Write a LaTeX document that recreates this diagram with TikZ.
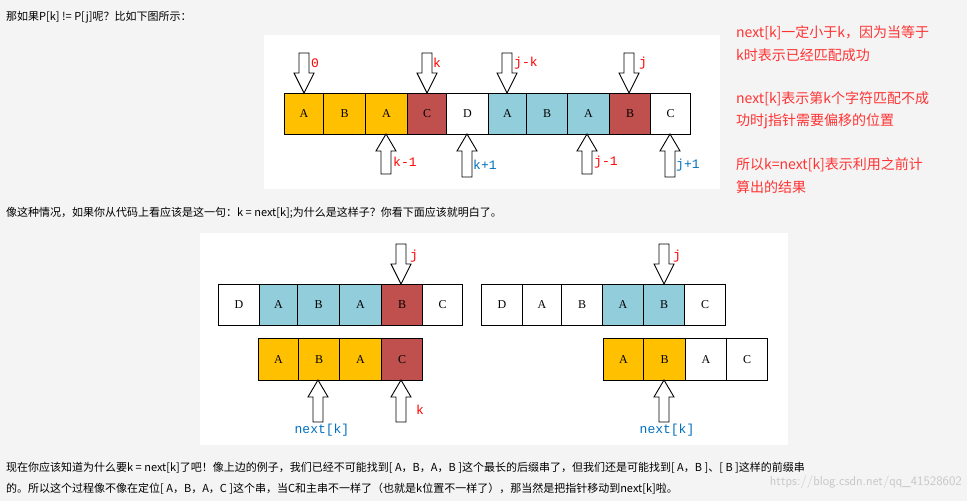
\documentclass[tikz,border=0pt]{standalone}
\usepackage{fontspec}
\setmainfont{Liberation Serif}
\newfontfamily\cjk{Noto Sans CJK SC}
\newfontfamily\mono{Liberation Mono}
\definecolor{org}{HTML}{FFC000}
\definecolor{rd}{HTML}{C0504D}
\definecolor{bl}{HTML}{92CDDC}
\definecolor{lred}{HTML}{FF0000}
\definecolor{lblue}{HTML}{0070C0}
\definecolor{bg}{HTML}{F4F4F4}
\definecolor{nred}{HTML}{FF3333}
\newcommand{\darr}[3]{\draw[blockarrow] (#1-5,#2) -- (#1+5,#2) -- (#1+5,#3-20) -- (#1+10,#3-20) -- (#1,#3) -- (#1-10,#3-20) -- (#1-5,#3-20) -- cycle;}
\newcommand{\uarr}[3]{\draw[blockarrow] (#1-5,#2) -- (#1+5,#2) -- (#1+5,#3+17) -- (#1+10,#3+17) -- (#1,#3) -- (#1-10,#3+17) -- (#1-5,#3+17) -- cycle;}
\begin{document}
\begin{tikzpicture}[x=1pt,y=-1pt,
  cell/.style={draw,line width=1pt,inner sep=0pt,font=\fontsize{12}{12}\selectfont},
  blockarrow/.style={draw,line width=0.9pt,fill=white,line join=miter},
  lab/.style={font=\mono\fontsize{13}{13}\selectfont,anchor=west,inner sep=0pt},
  txt/.style={font=\cjk\fontsize{11}{13}\selectfont,anchor=west,inner sep=0pt},
  note/.style={font=\cjk\fontsize{14}{16}\selectfont,text=nred,anchor=west,inner sep=0pt}]
\useasboundingbox (0,0) rectangle (967,501);
\fill[bg] (0,0) rectangle (967,501);
\fill[white] (264,35) rectangle (720,189);
\fill[white] (200,233) rectangle (788,445);
% top row
\foreach \a/\b/\t/\c [count=\i] in {284/323/A/org,323/365/B/org,365/407/A/org,407/446/C/rd,446/488/D/white,488/526/A/bl,526/567/B/bl,567/609/A/bl,609/650/B/rd,650/690/C/white}
  \node[cell,fill=\c,minimum width={\b-\a},minimum height=41,anchor=north west] (t\i) at (\a,93) {\t};
\darr{304}{53}{93}\node[lab,text=lred] (l0) at (311,63) {0};
\darr{427}{53}{93}\node[lab,text=lred] (lk) at (433,63) {k};
\darr{507}{53}{93}\node[lab,text=lred] (ljk) at (514,63) {j-k};
\darr{629}{53}{93}\node[lab,text=lred] (lj) at (639,63) {j};
\uarr{386}{174}{134}\node[lab,text=lred] (lk1) at (393,162) {k-1};
\uarr{467}{177}{134}\node[lab,text=lblue] (lkp) at (473,165) {k+1};
\uarr{587}{174}{134}\node[lab,text=lred] (lj1) at (594,162) {j-1};
\uarr{670}{177}{134}\node[lab,text=lblue] (ljp) at (676,165) {j+1};
% bottom left
\foreach \a/\b/\t/\c [count=\i] in {218/259/D/white,259/297/A/bl,297/339/B/bl,339/381/A/bl,381/422/B/rd,422/462/C/white}
  \node[cell,fill=\c,minimum width={\b-\a},minimum height=41,anchor=north west] (a\i) at (\a,284) {\t};
\foreach \a/\b/\t/\c [count=\i] in {258/298/A/org,298/339/B/org,339/381/A/org,381/422/C/rd}
  \node[cell,fill=\c,minimum width={\b-\a},minimum height=42,anchor=north west] (b\i) at (\a,338) {\t};
\darr{401}{244}{284}\node[lab,text=lred] (lj2) at (410,256) {j};
\uarr{318}{422}{380}\node[lab,text=lblue,anchor=center] (ln1) at (322,430) {next[k]};
\uarr{401}{422}{380}\node[lab,text=lred] (lk2) at (416,410) {k};
% bottom right
\foreach \a/\b/\t/\c [count=\i] in {481/522/D/white,522/561/A/white,561/602/B/white,602/643/A/bl,643/684/B/bl,684/725/C/white}
  \node[cell,fill=\c,minimum width={\b-\a},minimum height=41,anchor=north west] (c\i) at (\a,284) {\t};
\foreach \a/\b/\t/\c [count=\i] in {603/643/A/org,643/685/B/org,685/726/A/white,726/767/C/white}
  \node[cell,fill=\c,minimum width={\b-\a},minimum height=42,anchor=north west] (d\i) at (\a,338) {\t};
\darr{664}{244}{284}\node[lab,text=lred] (lj3) at (673,256) {j};
\uarr{664}{422}{380}\node[lab,text=lblue,anchor=center] (ln2) at (667,430) {next[k]};
% texts
\node[txt] (h1) at (6,17) {那如果P[k] != P[j]呢？比如下图所示：};
\node[txt] (h2) at (6,213) {像这种情况，如果你从代码上看应该是这一句：k = next[k];为什么是这样子？你看下面应该就明白了。};
\node[txt] (h3) at (6,468) {现在你应该知道为什么要k = next[k]了吧！像上边的例子，我们已经不可能找到[ A，B，A，B ]这个最长的后缀串了，但我们还是可能找到[ A，B ]、[ B ]这样的前缀串};
\node[txt] (h4) at (6,489) {的。所以这个过程像不像在定位[ A，B，A，C ]这个串，当C和主串不一样了（也就是k位置不一样了），那当然是把指针移动到next[k]啦。};
\node[font=\fontsize{13}{13}\selectfont\sffamily,text=black!22,anchor=east,inner sep=0pt] (wm) at (962,482) {https://blog.csdn.net/qq\_41528602};
\node[note] (n1) at (736,33) {next[k]一定小于k，因为当等于};
\node[note] (n2) at (736,55) {k时表示已经匹配成功};
\node[note] (n3) at (736,99) {next[k]表示第k个字符匹配不成};
\node[note] (n4) at (736,121) {功时j指针需要偏移的位置};
\node[note] (n5) at (736,165) {所以k=next[k]表示利用之前计};
\node[note] (n6) at (736,187) {算出的结果};
\end{tikzpicture}
\end{document}
